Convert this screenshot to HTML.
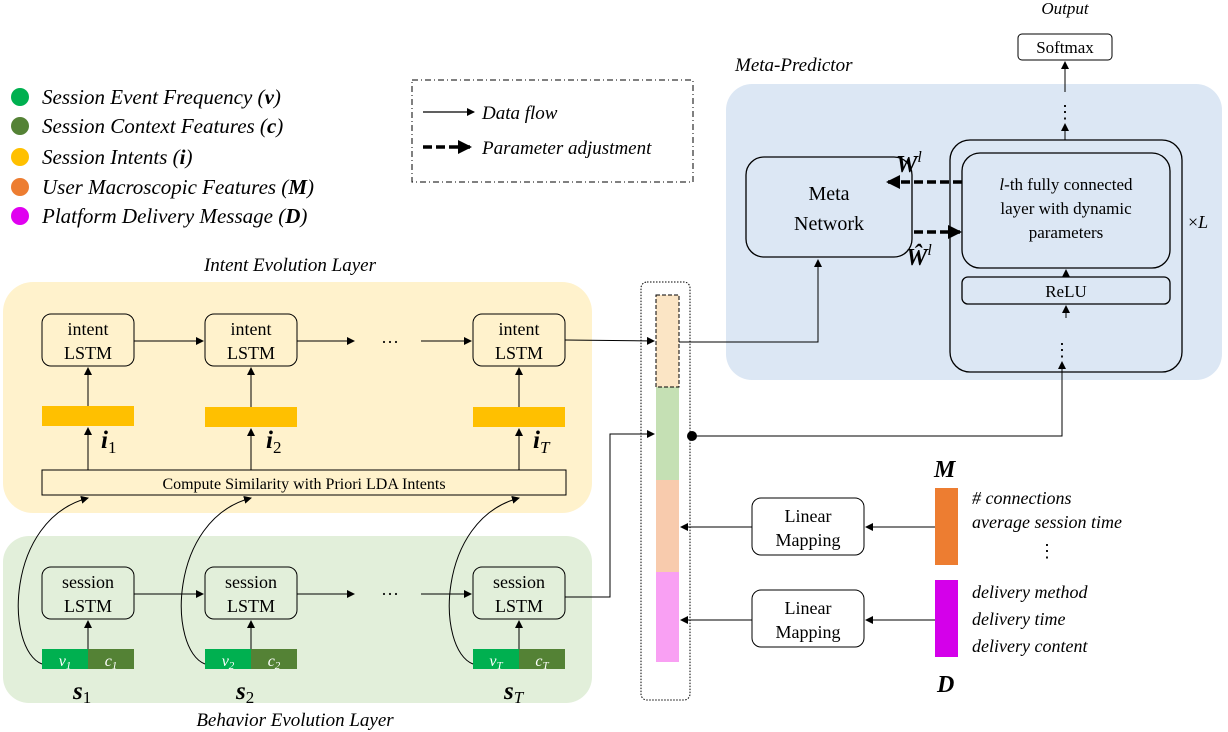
<!DOCTYPE html>
<html><head><meta charset="utf-8"><style>
body{margin:0;background:#fff}
svg{display:block;font-family:"Liberation Serif",serif}
</style></head><body>
<svg width="1228" height="732" viewBox="0 0 1228 732" xmlns="http://www.w3.org/2000/svg">
<defs>
<marker id="a" markerWidth="8" markerHeight="8" refX="7" refY="4" orient="auto" markerUnits="userSpaceOnUse"><path d="M0,0 L8,4 L0,8 z" fill="#000"/></marker>
<marker id="b" markerWidth="14" markerHeight="14" refX="12" refY="7" orient="auto" markerUnits="userSpaceOnUse"><path d="M0,0 L14,7 L0,14 z" fill="#000"/></marker>
</defs>
<!-- legend -->
<g font-style="italic" font-size="21">
<circle cx="20" cy="97" r="9" fill="#00b050"/><text x="42" y="104">Session Event Frequency (<tspan font-weight="bold">ν</tspan>)</text>
<circle cx="20" cy="126" r="9" fill="#548235"/><text x="42" y="133">Session Context Features (<tspan font-weight="bold">c</tspan>)</text>
<circle cx="20" cy="157" r="9" fill="#ffc000"/><text x="42" y="164">Session Intents (<tspan font-weight="bold">i</tspan>)</text>
<circle cx="20" cy="187" r="9" fill="#ed7d31"/><text x="42" y="194">User Macroscopic Features (<tspan font-weight="bold">M</tspan>)</text>
<circle cx="20" cy="216" r="9" fill="#e000f0"/><text x="42" y="223">Platform Delivery Message (<tspan font-weight="bold">D</tspan>)</text>
</g>
<!-- data flow box -->
<rect x="412" y="80" width="281" height="102" fill="none" stroke="#000" stroke-dasharray="6,3,1,3"/>
<line x1="423" y1="112" x2="474" y2="112" stroke="#000" stroke-width="1.3" marker-end="url(#a)"/>
<text x="482" y="119" font-style="italic" font-size="19">Data flow</text>
<line x1="423" y1="147" x2="470" y2="147" stroke="#000" stroke-width="3.5" stroke-dasharray="9,4" marker-end="url(#b)"/>
<text x="482" y="154" font-style="italic" font-size="19">Parameter adjustment</text>

<!-- meta predictor -->
<rect x="726" y="84" width="496" height="296" rx="26" fill="#dce7f4"/>
<text x="735" y="71" font-style="italic" font-size="19">Meta-Predictor</text>
<text x="1065" y="14" font-style="italic" font-size="17" text-anchor="middle">Output</text>
<rect x="1018" y="34" width="94" height="26" rx="4" fill="#fff" stroke="#000"/>
<text x="1065" y="53" font-size="17" text-anchor="middle">Softmax</text>
<line x1="1065" y1="92" x2="1065" y2="62" stroke="#000" marker-end="url(#a)"/>
<text x="1065" y="118" font-size="18" text-anchor="middle">⋮</text>
<line x1="1065" y1="140" x2="1065" y2="124" stroke="#000" marker-end="url(#a)"/>
<rect x="950" y="140" width="232" height="232" rx="20" fill="none" stroke="#000" stroke-width="1.3"/>
<rect x="962" y="153" width="208" height="115" rx="18" fill="none" stroke="#000" stroke-width="1.3"/>
<text font-size="17" text-anchor="middle"><tspan x="1066" y="190"><tspan font-style="italic">l</tspan>-th fully connected</tspan><tspan x="1066" y="214">layer with dynamic</tspan><tspan x="1066" y="238">parameters</tspan></text>
<rect x="962" y="277" width="208" height="27" rx="6" fill="none" stroke="#000" stroke-width="1.3"/>
<text x="1066" y="297" font-size="17" text-anchor="middle">ReLU</text>
<line x1="1066" y1="277" x2="1066" y2="270" stroke="#000" marker-end="url(#a)"/>
<line x1="1066" y1="318" x2="1066" y2="306" stroke="#000" marker-end="url(#a)"/>
<text x="1062" y="356" font-size="18" text-anchor="middle">⋮</text>
<text x="1188" y="228" font-size="18"><tspan>×</tspan><tspan font-style="italic">L</tspan></text>
<rect x="746" y="157" width="166" height="100" rx="18" fill="none" stroke="#000" stroke-width="1.3"/>
<text font-size="20" text-anchor="middle"><tspan x="829" y="200">Meta</tspan><tspan x="829" y="230">Network</tspan></text>
<line x1="962" y1="182" x2="888" y2="182" stroke="#000" stroke-width="3.5" stroke-dasharray="9,4" marker-end="url(#b)"/>
<line x1="914" y1="232" x2="960" y2="232" stroke="#000" stroke-width="3.5" stroke-dasharray="9,4" marker-end="url(#b)"/>
<text x="896" y="172" font-size="24" font-weight="bold" font-style="italic">W<tspan font-size="16" dy="-10" font-weight="normal">l</tspan></text>
<text x="906" y="265" font-size="24" font-weight="bold" font-style="italic">Ŵ<tspan font-size="16" dy="-10" font-weight="normal">l</tspan></text>

<!-- intent layer -->
<rect x="3" y="282" width="589" height="231" rx="30" fill="#fff2cc"/>
<text x="290" y="271" font-style="italic" font-size="19" text-anchor="middle">Intent Evolution Layer</text>
<g font-size="18" text-anchor="middle">
<rect x="42" y="314" width="92" height="52" rx="9" fill="none" stroke="#000"/><text x="88" y="335">intent</text><text x="88" y="359">LSTM</text>
<rect x="205" y="314" width="92" height="52" rx="9" fill="none" stroke="#000"/><text x="251" y="335">intent</text><text x="251" y="359">LSTM</text>
<rect x="473" y="314" width="92" height="52" rx="9" fill="none" stroke="#000"/><text x="519" y="335">intent</text><text x="519" y="359">LSTM</text>
<text x="390" y="348">···</text>
</g>
<line x1="134" y1="341" x2="203" y2="341" stroke="#000" marker-end="url(#a)"/>
<line x1="297" y1="341" x2="354" y2="341" stroke="#000" marker-end="url(#a)"/>
<line x1="421" y1="341" x2="471" y2="341" stroke="#000" marker-end="url(#a)"/>
<rect x="42" y="406" width="92" height="20" fill="#ffc000"/>
<rect x="205" y="407" width="92" height="20" fill="#ffc000"/>
<rect x="473" y="407" width="92" height="20" fill="#ffc000"/>
<g stroke="#000">
<line x1="88" y1="406" x2="88" y2="368" marker-end="url(#a)"/>
<line x1="251" y1="407" x2="251" y2="368" marker-end="url(#a)"/>
<line x1="519" y1="407" x2="519" y2="368" marker-end="url(#a)"/>
<line x1="88" y1="470" x2="88" y2="428" marker-end="url(#a)"/>
<line x1="251" y1="470" x2="251" y2="429" marker-end="url(#a)"/>
<line x1="519" y1="470" x2="519" y2="429" marker-end="url(#a)"/>
</g>
<g font-size="25" font-weight="bold" font-style="italic">
<text x="101" y="448">i<tspan font-size="17" font-weight="normal" font-style="normal" dy="5">1</tspan></text>
<text x="266" y="448">i<tspan font-size="17" font-weight="normal" font-style="normal" dy="5">2</tspan></text>
<text x="533" y="448">i<tspan font-size="17" font-weight="normal" font-style="italic" dy="5">T</tspan></text>
</g>
<rect x="42" y="470" width="524" height="25" fill="none" stroke="#000"/>
<text x="304" y="489" font-size="16" text-anchor="middle">Compute Similarity with Priori LDA Intents</text>

<!-- behavior layer -->
<rect x="3" y="536" width="589" height="167" rx="26" fill="#e2efda"/>
<text x="295" y="726" font-style="italic" font-size="19" text-anchor="middle">Behavior Evolution Layer</text>
<g font-size="18" text-anchor="middle">
<rect x="42" y="567" width="92" height="52" rx="9" fill="none" stroke="#000"/><text x="88" y="588">session</text><text x="88" y="612">LSTM</text>
<rect x="205" y="567" width="92" height="52" rx="9" fill="none" stroke="#000"/><text x="251" y="588">session</text><text x="251" y="612">LSTM</text>
<rect x="473" y="567" width="92" height="52" rx="9" fill="none" stroke="#000"/><text x="519" y="588">session</text><text x="519" y="612">LSTM</text>
<text x="390" y="600">···</text>
</g>
<line x1="134" y1="594" x2="203" y2="594" stroke="#000" marker-end="url(#a)"/>
<line x1="297" y1="594" x2="354" y2="594" stroke="#000" marker-end="url(#a)"/>
<line x1="421" y1="594" x2="471" y2="594" stroke="#000" marker-end="url(#a)"/>
<g font-size="16" font-style="italic" fill="#fff" text-anchor="middle">
<rect x="42" y="649" width="46" height="20" fill="#00b050"/><rect x="88" y="649" width="46" height="20" fill="#548235"/>
<text x="65" y="666">v<tspan font-size="11" dy="3">1</tspan></text><text x="111" y="666">c<tspan font-size="11" dy="3">1</tspan></text>
<rect x="205" y="649" width="46" height="20" fill="#00b050"/><rect x="251" y="649" width="46" height="20" fill="#548235"/>
<text x="228" y="666">v<tspan font-size="11" dy="3">2</tspan></text><text x="274" y="666">c<tspan font-size="11" dy="3">2</tspan></text>
<rect x="473" y="649" width="46" height="20" fill="#00b050"/><rect x="519" y="649" width="46" height="20" fill="#548235"/>
<text x="496" y="666">v<tspan font-size="11" dy="3">T</tspan></text><text x="542" y="666">c<tspan font-size="11" dy="3">T</tspan></text>
</g>
<g stroke="#000" fill="none">
<line x1="88" y1="649" x2="88" y2="621" marker-end="url(#a)"/>
<line x1="251" y1="649" x2="251" y2="621" marker-end="url(#a)"/>
<line x1="519" y1="649" x2="519" y2="621" marker-end="url(#a)"/>
<path d="M42,664 C5,650 5,520 88,498" marker-end="url(#a)"/>
<path d="M205,664 C168,650 168,520 251,498" marker-end="url(#a)"/>
<path d="M473,664 C436,650 436,520 519,498" marker-end="url(#a)"/>
</g>
<g font-size="25" font-weight="bold" font-style="italic">
<text x="73" y="699">s<tspan font-size="17" font-weight="normal" font-style="normal" dy="4">1</tspan></text>
<text x="236" y="699">s<tspan font-size="17" font-weight="normal" font-style="normal" dy="4">2</tspan></text>
<text x="504" y="699">s<tspan font-size="17" font-weight="normal" font-style="italic" dy="4">T</tspan></text>
</g>

<!-- concat column -->
<rect x="641" y="282" width="49" height="418" rx="6" fill="none" stroke="#000" stroke-dasharray="1.5,1.5"/>
<rect x="656" y="387" width="23" height="93" fill="#c5e0b4"/>
<rect x="656" y="480" width="23" height="92" fill="#f8cbad"/>
<rect x="656" y="572" width="23" height="90" fill="#f9a0f3"/>
<rect x="656" y="295" width="23" height="92" fill="#fbe5c5" stroke="#000" stroke-dasharray="4,2"/>
<g stroke="#000" fill="none">
<line x1="565" y1="340" x2="654" y2="341" marker-end="url(#a)"/>
<path d="M565,597 H610 V434 H654" marker-end="url(#a)"/>
<path d="M679,342 H818 V260" marker-end="url(#a)"/>
<path d="M692,436 H1062 V362" marker-end="url(#a)"/>
<line x1="752" y1="527" x2="681" y2="527" marker-end="url(#a)"/>
<line x1="752" y1="620" x2="681" y2="620" marker-end="url(#a)"/>
<line x1="935" y1="527" x2="866" y2="527" marker-end="url(#a)"/>
<line x1="935" y1="620" x2="866" y2="620" marker-end="url(#a)"/>
</g>
<circle cx="692" cy="436" r="5" fill="#000"/>
<g font-size="18" text-anchor="middle">
<rect x="752" y="498" width="112" height="57" rx="9" fill="#fff" stroke="#000"/><text x="808" y="522">Linear</text><text x="808" y="546">Mapping</text>
<rect x="752" y="590" width="112" height="57" rx="9" fill="#fff" stroke="#000"/><text x="808" y="614">Linear</text><text x="808" y="638">Mapping</text>
</g>
<rect x="935" y="488" width="23" height="77" fill="#ed7d31"/>
<rect x="935" y="580" width="23" height="77" fill="#d400ea"/>
<text x="934" y="477" font-size="24" font-weight="bold" font-style="italic">M</text>
<text x="937" y="692" font-size="24" font-weight="bold" font-style="italic">D</text>
<g font-size="18" font-style="italic">
<text x="972" y="504"># connections</text>
<text x="972" y="528">average session time</text>
<text x="1038" y="557" font-style="normal">⋮</text>
<text x="972" y="598">delivery method</text>
<text x="972" y="625">delivery time</text>
<text x="972" y="652">delivery content</text>
</g>
</svg>
</body></html>
